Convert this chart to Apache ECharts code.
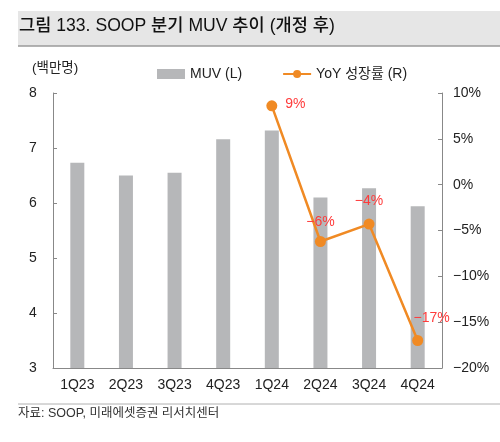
<!DOCTYPE html>
<html>
<head>
<meta charset="utf-8">
<script src="https://cdn.jsdelivr.net/npm/echarts@6/dist/echarts.min.js"></script>
<style>
  html, body { margin: 0; padding: 0; background: #fff; }
  #chart { width: 500px; height: 442px; }
</style>
</head>
<body>
<div id="chart"></div>
<script>
// quarters on the x axis
var quarters = ['1Q23', '2Q23', '3Q23', '4Q23', '1Q24', '2Q24', '3Q24', '4Q24'];
// MUV, millions (left axis)
var muv = [6.73, 6.50, 6.55, 7.16, 7.32, 6.10, 6.27, 5.94];
// YoY growth, % (right axis) - only from 1Q24
var yoy = [null, null, null, null, 8.6, -6.2, -4.3, -17.0];
// where each growth label sits
var labelPos = [null, null, null, null, 'right', 'top', 'top', 'top'];
var labelOff = [null, null, null, null, [0, -2], [0, 1], [0, -2], [14, -2]];

var font = '"Liberation Sans", "Noto Sans CJK KR", sans-serif';
var minus = function (s) { return String(s).replace('-', '\u2212'); };

var chartDom = document.getElementById('chart');
var myChart = echarts.init(chartDom);
var option;

option = {
  animation: false,
  textStyle: { fontFamily: font },
  grid: { left: 53, right: 58, top: 93, bottom: 74 },
  graphic: [
    // title band
    { type: 'rect', shape: { x: 18, y: 11, width: 482, height: 35 }, style: { fill: '#e6e6e6' } },
    { type: 'line', shape: { x1: 18, y1: 46, x2: 500, y2: 46 }, style: { stroke: '#9a9a9a', lineWidth: 1.5 } },
    { type: 'text', left: 19, top: 17,
      style: { text: '그림 133. SOOP 분기 MUV 추이 (개정 후)', fill: '#111', font: '500 17.6px ' + font } },
    // unit
    { type: 'text', left: 32, top: 62,
      style: { text: '(백만명)', fill: '#222', font: '13.5px ' + font } },
    // footer
    { type: 'line', shape: { x1: 18, y1: 404, x2: 500, y2: 404 }, style: { stroke: '#b0b0b0', lineWidth: 1 } },
    { type: 'text', left: 18, top: 407,
      style: { text: '자료: SOOP, 미래에셋증권 리서치센터', fill: '#333', font: '12.5px ' + font } }
  ],
  legend: {
    left: 152, top: 62,
    itemWidth: 28, itemHeight: 10, itemGap: 40,
    textStyle: { fontSize: 14, color: '#222', fontFamily: font },
    data: [
      { name: 'MUV (L)', icon: 'rect', itemStyle: { color: '#b6b7b9' } },
      { name: 'YoY 성장률 (R)' }
    ]
  },
  xAxis: {
    type: 'category',
    data: quarters,
    axisLine: { onZero: false, lineStyle: { color: '#888' } },
    axisTick: { inside: true, length: 5, lineStyle: { color: '#888' } },
    axisLabel: { color: '#222', fontSize: 14, margin: 10 }
  },
  yAxis: [
    {
      type: 'value', min: 3, max: 8, interval: 1,
      splitLine: { show: false },
      axisLine: { show: true, lineStyle: { color: '#888' } },
      axisTick: { show: true, inside: true, length: 4, lineStyle: { color: '#888' } },
      axisLabel: { color: '#222', fontSize: 14, margin: 20, align: 'center' }
    },
    {
      type: 'value', min: -20, max: 10, interval: 5,
      splitLine: { show: false },
      axisLine: { show: true, lineStyle: { color: '#888' } },
      axisTick: { show: true, inside: true, length: 4, lineStyle: { color: '#888' } },
      axisLabel: { color: '#222', fontSize: 14, margin: 11,
        formatter: function (v) { return minus(v) + '%'; } }
    }
  ],
  series: [
    {
      name: 'MUV (L)',
      type: 'bar',
      data: muv,
      barWidth: 14,
      itemStyle: { color: '#b6b7b9' }
    },
    {
      name: 'YoY 성장률 (R)',
      type: 'line',
      yAxisIndex: 1,
      data: yoy.map(function (v, i) {
        if (v === null) return null;
        return {
          value: v,
          label: { position: labelPos[i], offset: labelOff[i] }
        };
      }),
      color: '#f08a24',
      lineStyle: { width: 2.5, color: '#f08a24' },
      symbol: 'circle',
      symbolSize: 11,
      itemStyle: { color: '#f08a24' },
      label: {
        show: true,
        color: '#ff3b3b',
        fontSize: 14,
        distance: 8,
        formatter: function (p) { return minus(Math.round(p.value)) + '%'; }
      }
    }
  ]
};

option && myChart.setOption(option);
</script>
</body>
</html>
